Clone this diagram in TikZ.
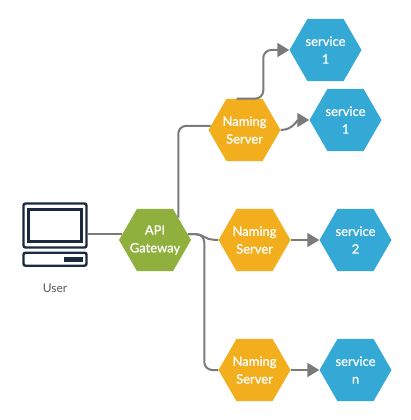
\documentclass[tikz,border=0pt]{standalone}
\usepackage{fontspec}
\setmainfont{Lato}
\newfontfamily\hexafont[FakeBold=0.7]{Lato}
\usetikzlibrary{shapes.geometric,arrows.meta}

\definecolor{usercolor}{HTML}{1B2A3F}
\definecolor{linecolor}{HTML}{7A7A7A}
\definecolor{gatewaycolor}{HTML}{8FB03C}
\definecolor{namingcolor}{HTML}{F2AE1C}
\definecolor{servicecolor}{HTML}{35A9D6}

\tikzset{
  hexa/.style={regular polygon, regular polygon sides=6, minimum size=72pt, inner sep=-8pt,
    text=white, align=center, font=\hexafont\fontsize{13}{17.7}\selectfont},
  gateway/.style={hexa, fill=gatewaycolor},
  naming/.style={hexa, fill=namingcolor},
  service/.style={hexa, fill=servicecolor},
  conn/.style={draw=linecolor, line width=2pt},
  arrowconn/.style={conn, -{Triangle[length=12pt,width=14pt]}}
}

\begin{document}
\begin{tikzpicture}[node distance=101pt]
    \useasboundingbox (0,0) rectangle (410pt,-420pt);
    \node (api) [gateway] at (155pt,-240pt) {API\\Gateway};
    \node (ns2) [naming, right of=api, node distance=99.5pt] {Naming\\Server};
    \node (svc2) [service, right of=ns2] {service\\2};
    \node (ns3) [naming, below of=ns2, node distance=130pt] {Naming\\Server};
    \node (svcn) [service, right of=ns3] {service\\n};
    \node (ns1) [naming, above of=ns2, node distance=110pt, xshift=-10pt] {Naming\\Server};
    \node (svc1b) [service, right of=ns1, yshift=10pt] {service\\1};
    \node (svc1a) [service, above of=svc1b, node distance=70pt, xshift=-20pt] {service\\1};
    % user icon
    \node (monitor) [draw=usercolor, line width=2.4pt, rounded corners=2pt, minimum width=63pt, minimum height=44pt, left of=api, node distance=100pt, yshift=14.5pt] {};
    \node (screen) [draw=usercolor, line width=2.4pt, minimum width=53pt, minimum height=32pt] at (monitor) {};
    \node (base) [draw=usercolor, line width=2.4pt, rounded corners=2pt, minimum width=63pt, minimum height=13pt, below of=monitor, node distance=33.7pt] {};
    \node (slot) [fill=usercolor, minimum width=18.5pt, minimum height=4.7pt, inner sep=0pt, right of=base, node distance=18.3pt] {};
    \node (user) [below of=base, node distance=29.5pt, text=black!65, font=\fontsize{12}{14}\selectfont] {User};
    % connectors
    \draw[conn] (monitor.east |- api.170) -- (api.170);
    \draw[conn, rounded corners=8pt] (api.44) |- (ns1.173);
    \draw[conn] (api.10) -- ++(8pt,0) to[out=0,in=180] ++(17pt,-5.5pt) -- (ns2.west);
    \draw[conn, rounded corners=8pt] (api.10) -| ([xshift=-14pt]ns3.west) -- (ns3.west);
    \draw[arrowconn, rounded corners=8pt] ([xshift=-8pt]ns1.north) -| ([xshift=-26pt]svc1a.west) -- (svc1a.west);
    \draw[arrowconn] (ns1.east) to[out=0,in=180] (svc1b.west);
    \draw[arrowconn] (ns2.east) -- (svc2.west);
    \draw[arrowconn] (ns3.east) -- (svcn.west);
\end{tikzpicture}
\end{document}
